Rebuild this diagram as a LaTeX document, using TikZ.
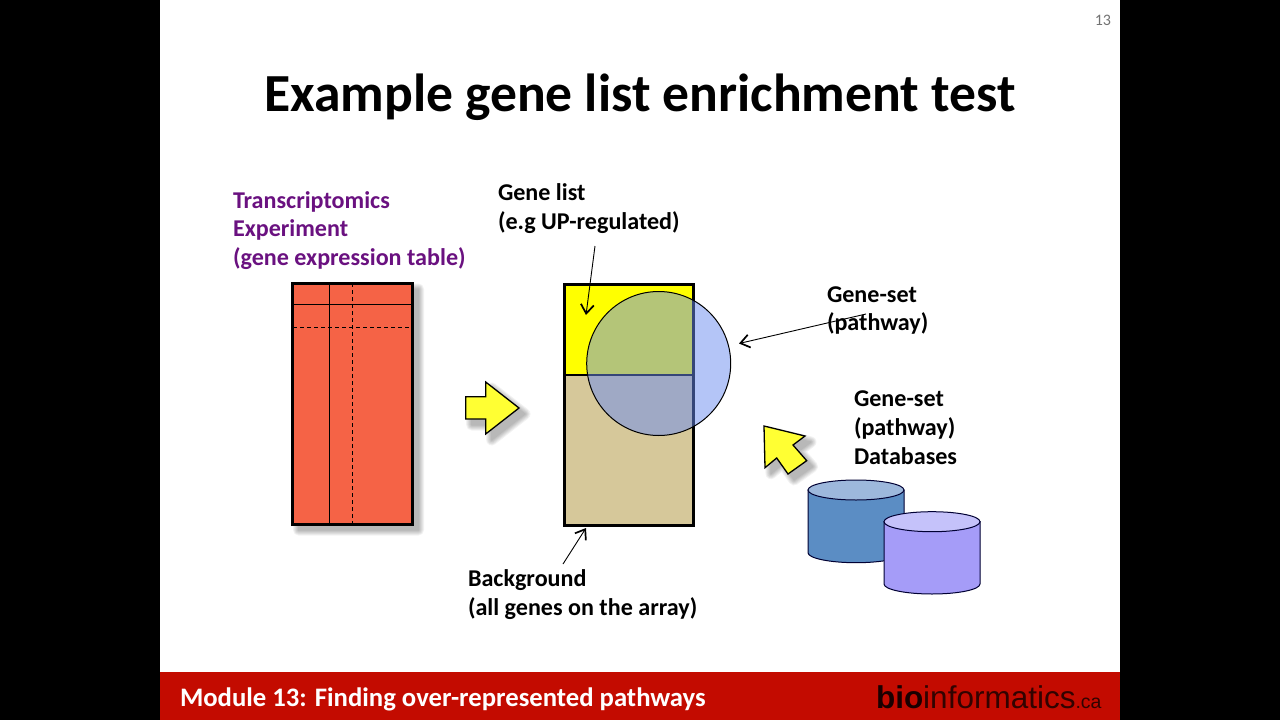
\documentclass[tikz,border=0pt]{standalone}
\usepackage{fontspec}
\setmainfont{Carlito}
\newfontfamily\logofont{Liberation Sans}
\usetikzlibrary{arrows.meta,shapes.geometric}
\definecolor{barred}{HTML}{C30B00}
\definecolor{tablered}{HTML}{F56346}
\definecolor{titlepurple}{HTML}{6A1180}
\definecolor{tan}{HTML}{D6C89A}
\definecolor{vennyellow}{HTML}{FFFF00}
\definecolor{arrowyellow}{HTML}{FFFF33}
\definecolor{setblue}{HTML}{6A8CF0}
\definecolor{cylblue}{HTML}{5B8DC4}
\definecolor{cyltopblue}{HTML}{9DB8DC}
\definecolor{cylpurple}{HTML}{A59CF8}
\definecolor{cyltoppurple}{HTML}{C5C2FA}
\newcommand{\softshadow}[1]{%
  \foreach \w in {11,9,7,5,3,1}{%
    \begin{scope}[transparency group,opacity=0.05,shift={(6pt,-6pt)}]
      \path[use as bounding box] (270,270) rectangle (830,540);
      \draw[black,fill=black,line width=\w pt,line join=round] #1;
    \end{scope}}%
}
\tikzset{
  label/.style={anchor=base west,align=left,font=\fontsize{24.1}{28.6}\selectfont\bfseries,inner sep=0pt,text=black},
  callout/.style={-{Straight Barb[length=9pt,width=13pt,line width=1.7pt]},line width=0.9pt,black},
  bigarrow/.style={fill=arrowyellow,draw=black,line width=1.3pt,line join=miter},
  cyl/.style={draw=black!80!blue,line width=1pt}
}
\begin{document}
\begin{tikzpicture}[x=1pt,y=-1pt,outer sep=0pt]
\fill[black] (0,0) rectangle (1280,720);
\fill[white] (160,0) rectangle (1120,672);
\fill[barred] (160,672) rectangle (1120,720);
% title and page number
\node[anchor=base,font=\fontsize{53.6}{56}\selectfont\bfseries,inner sep=0pt] (title) at (640,111) {Example gene list enrichment test};
\node[anchor=base east,font=\fontsize{16}{18}\selectfont,text=black!55,inner sep=0pt] (page) at (1111,25.5) {13};
% footer
\node[anchor=base west,font=\fontsize{26.7}{28}\selectfont\bfseries,text=white,inner sep=0pt] (module) at (180,706.5) {Module 13: Finding over-represented pathways};
\node[anchor=base west,inner sep=0pt,text=black!90!red] (logo) at (876,708) {\logofont\fontsize{31.5}{32}\selectfont\textbf{bio}\textcolor{black!75!barred}{informatics}\textcolor{black!75!barred}{\fontsize{19.5}{20}\selectfont.ca}};
% expression table
\softshadow{(292.5,283) rectangle (412.5,524)}
\node[draw=black,line width=3pt,fill=tablered,minimum width=120pt,minimum height=241pt,inner sep=0pt,anchor=north west] (table) at (292.5,283) {};
\draw[line width=1.3pt] (292.5,304.5) -- (412.5,304.5);
\draw[line width=1.3pt] (329.5,283) -- (329.5,524);
\draw[line width=1pt,dash pattern=on 4pt off 3pt] (293,327.5) -- (412,327.5);
\draw[line width=1pt,dash pattern=on 4pt off 3pt] (352.5,283) -- (352.5,524);
\node[label,text=titlepurple] (exp) at (233,265.3) {Transcriptomics\\Experiment\\(gene expression table)};
% arrow to venn
\softshadow{(465.7,396.7) -- (485.7,396.7) -- (485.7,382) -- (519,408) -- (485.7,434) -- (485.7,419) -- (465.7,419) -- cycle}
\draw[bigarrow] (465.7,396.7) -- (485.7,396.7) -- (485.7,382) -- (519,408) -- (485.7,434) -- (485.7,419) -- (465.7,419) -- cycle;
% venn
\node[fill=vennyellow,minimum width=129pt,minimum height=92pt,inner sep=0pt,anchor=north west] (genelistbox) at (564,283) {};
\node[fill=tan,minimum width=129pt,minimum height=151pt,inner sep=0pt,anchor=north west] (bgbox) at (564,375) {};
\draw[line width=1.2pt] (564,375) -- (693,375);
\draw[line width=3pt,line join=miter] (693,284) -- (564.5,284) -- (564.5,525) -- (693,525) -- cycle;
\fill[setblue,opacity=0.5] (658.7,363.5) circle (72pt);
\node[circle,draw=black,line width=1pt,minimum size=144pt,inner sep=0pt] (geneset) at (658.7,363.5) {};
% labels
\node[label] (gl) at (498,229) {Gene list\\(e.g UP-regulated)};
\node[label] (gs) at (827,330.8) {Gene-set\\(pathway)};
\node[label] (gsdb) at (854,464) {Gene-set\\(pathway)\\Databases};
\node[label] (bg) at (468,615) {Background\\(all genes on the array)};
% connectors
\coordinate (a1) at (595,246); \coordinate (a1t) at (586,315);
\coordinate (a2) at (866,314); \coordinate (a2t) at (739,343.5);
\coordinate (a3) at (563,564); \coordinate (a3t) at (586,528);
\draw[callout] (a1) -- (a1t);
\draw[callout] (a2) -- (a2t);
\draw[callout] (a3) -- (a3t);
% arrow to genesets
\softshadow{(764,426) -- (805,436) -- (793,445) -- (806.7,460.7) -- (788,474) -- (776.7,458) -- (765,467.7) -- cycle}
\draw[bigarrow] (764,426) -- (805,436) -- (793,445) -- (806.7,460.7) -- (788,474) -- (776.7,458) -- (765,467.7) -- cycle;
% databases
\draw[cyl,fill=cylblue] (808,490) -- (808,552.7) arc[start angle=180,end angle=360,x radius=48pt,y radius=10pt] -- (904,490) -- cycle;
\draw[cyl,fill=cyltopblue] (856,490) ellipse[x radius=48pt,y radius=10pt];
\draw[cyl,fill=cylpurple] (884,521.7) -- (884,584) arc[start angle=180,end angle=360,x radius=48pt,y radius=10pt] -- (980,521.7) -- cycle;
\draw[cyl,fill=cyltoppurple] (932,521.7) ellipse[x radius=48pt,y radius=10pt];
\useasboundingbox (0,0) rectangle (1280,720);
\end{tikzpicture}
\end{document}
